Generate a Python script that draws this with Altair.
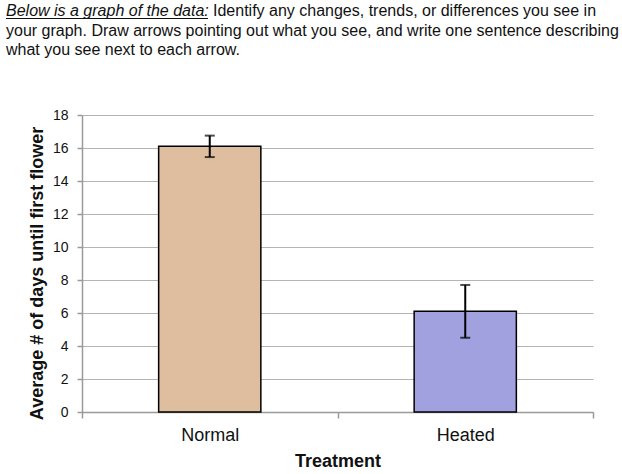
import altair as alt
import pandas as pd

# Data
categories = ["Normal", "Heated"]
mean_days = [16.1, 6.1]
error_days = [0.65, 1.6]
bar_colors = ["#dfbd9f", "#a1a1e0"]
y_ticks = list(range(0, 19, 2))

header_lead = "Below is a graph of the data:"
header_line1 = "Identify any changes, trends, or differences you see in"
header_line2 = "your graph. Draw arrows pointing out what you see, and write one sentence describing"
header_line3 = "what you see next to each arrow."

FONT = "Liberation Sans"
AXIS_GREY = "#9a9a9a"
GRID_GREY = "#b4b4b4"
W, H = 511, 297

df = pd.DataFrame({"treatment": categories, "mean": mean_days, "err": error_days})
df["pos"] = [i + 0.5 for i in range(len(categories))]
df["left"] = df["pos"] - 0.2
df["right"] = df["pos"] + 0.2
df["lo"] = df["mean"] - df["err"]
df["hi"] = df["mean"] + df["err"]

x_scale = alt.Scale(domain=[0, len(categories)], nice=False, zero=False)
y_scale = alt.Scale(domain=[0, 18], nice=False)

y_axis = alt.Axis(
    values=y_ticks, title="Average # of days until first flower",
    titleFontSize=18, titleFontWeight="bold", titleColor="#111",
    titleFont=FONT, titlePadding=6, titleY=158,
    labelFont=FONT, labelFontSize=14, labelColor="#111", labelPadding=9,
    tickSize=5, tickColor=AXIS_GREY, tickWidth=1.5,
    domainColor=AXIS_GREY, domainWidth=1.5,
    grid=True, gridColor=GRID_GREY, gridWidth=1.2,
)

# Bars, carrying the tick-only category axis (ticks at the band boundaries)
bars = alt.Chart(df).mark_bar(stroke="black", strokeWidth=1.5).encode(
    x=alt.X("left:Q", scale=x_scale, axis=alt.Axis(
        orient="bottom", values=list(range(len(categories) + 1)), labels=False,
        title=None, grid=False, tickSize=6, tickColor=AXIS_GREY, tickWidth=1.5,
        domainColor=AXIS_GREY, domainWidth=1.5)),
    x2="right:Q",
    y=alt.Y("mean:Q", scale=y_scale, axis=y_axis),
    y2=alt.datum(0),
    color=alt.Color("treatment:N", scale=alt.Scale(domain=categories, range=bar_colors), legend=None),
)

label_expr = "[" + ", ".join(f"'{c}'" for c in categories) + "][floor(datum.value)]"

# Error bar stems, carrying the category label axis
stems = alt.Chart(df).mark_rule(color="black", strokeWidth=2).encode(
    x=alt.X("pos:Q", scale=x_scale, axis=alt.Axis(
        orient="bottom", values=[i + 0.5 for i in range(len(categories))],
        labelExpr=label_expr, ticks=False, domain=False, grid=False,
        labelFont=FONT, labelFontSize=18, labelColor="#111", labelPadding=14,
        title="Treatment", titleFont=FONT, titleFontSize=18, titleFontWeight="bold",
        titleColor="#111", titlePadding=8)),
    y=alt.Y("lo:Q", scale=y_scale, axis=y_axis),
    y2="hi:Q",
)

caps_top = alt.Chart(df).mark_tick(color="black", orient="horizontal", size=10, thickness=2).encode(
    x=alt.X("pos:Q", scale=x_scale, axis=None),
    y=alt.Y("hi:Q", scale=y_scale, axis=y_axis),
)
caps_bottom = alt.Chart(df).mark_tick(color="black", orient="horizontal", size=10, thickness=2).encode(
    x=alt.X("pos:Q", scale=x_scale, axis=None),
    y=alt.Y("lo:Q", scale=y_scale, axis=y_axis),
)

# Instruction text above the chart
one = alt.Data(values=[{}])
lead = alt.Chart(one).mark_text(
    font=FONT, fontSize=16, fontStyle="italic", align="left", baseline="alphabetic", color="#111"
).encode(x=alt.value(-76), y=alt.value(-99), text=alt.value(header_lead))
underline = alt.Chart(one).mark_rule(color="#111", strokeWidth=1.2).encode(
    x=alt.value(-76), x2=alt.value(126), y=alt.value(-96.5))
text_style = dict(font=FONT, fontSize=16, align="left", baseline="alphabetic", color="#111")
line1 = alt.Chart(one).mark_text(**text_style).encode(
    x=alt.value(131), y=alt.value(-99), text=alt.value(header_line1))
line2 = alt.Chart(one).mark_text(**text_style).encode(
    x=alt.value(-76), y=alt.value(-79), text=alt.value(header_line2))
line3 = alt.Chart(one).mark_text(**text_style).encode(
    x=alt.value(-76), y=alt.value(-60), text=alt.value(header_line3))

chart = alt.layer(
    bars, stems, caps_top, caps_bottom, lead, underline, line1, line2, line3
).resolve_axis(x="independent").properties(
    width=W, height=H,
    padding={"left": 82, "top": 115, "right": 29, "bottom": 62},
    autosize=alt.AutoSizeParams(type="none"),
    background="white",
).configure_view(stroke=None)

chart.save("out.html", embed_options={"renderer": "svg", "actions": False})
